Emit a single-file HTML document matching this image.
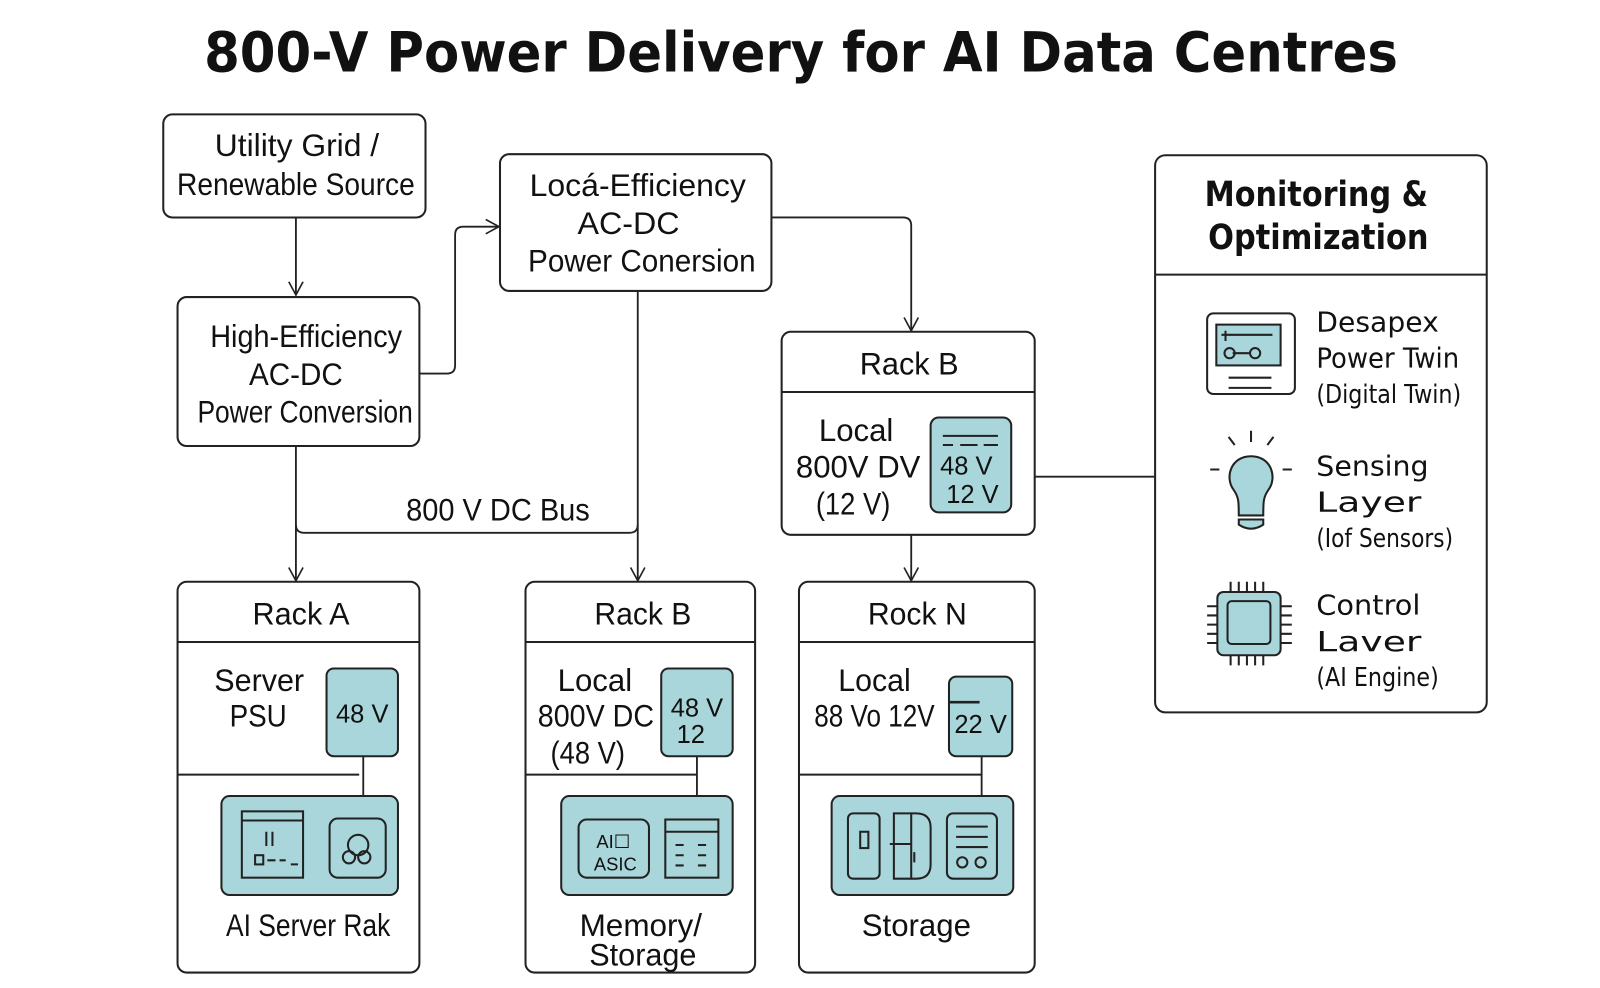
<!DOCTYPE html>
<html><head><meta charset="utf-8"><style>
html,body{margin:0;padding:0;background:#fff;}
svg{display:block}
text{font-family:"Liberation Sans Narrow","Liberation Sans",sans-serif;fill:#111}
.t{font-size:31px}
.b{font-family:"DejaVu Sans","Liberation Sans",sans-serif;font-weight:bold}
.m{font-family:"DejaVu Sans","Liberation Sans",sans-serif;font-size:27px}
.s{font-size:25px}
</style></head><body>
<svg width="1600" height="988" viewBox="0 0 1568 968" xmlns="http://www.w3.org/2000/svg">
<defs>
<marker id="r" markerWidth="16" markerHeight="16" refX="14" refY="8" orient="auto" markerUnits="userSpaceOnUse"><path d="M1,1 L14,8 L1,15" fill="none" stroke="#222" stroke-width="1.6"/></marker></defs>
<rect width="1568" height="968" fill="#fff"/>
<text class="b" x="785" y="70" text-anchor="middle" font-size="54" textLength="1170" lengthAdjust="spacingAndGlyphs">800-V Power Delivery for AI Data Centres</text>

<g fill="none" stroke="#222" stroke-width="2">
<rect x="160" y="112" width="257" height="101" rx="9"/>
<rect x="174" y="291" width="237" height="146" rx="9"/>
<rect x="490" y="151" width="266" height="134" rx="9"/>
<rect x="766" y="325" width="248" height="199" rx="9"/>
<line x1="766" y1="384" x2="1014" y2="384"/>
<rect x="1132" y="152" width="325" height="546" rx="10"/>
<line x1="1132" y1="269" x2="1457" y2="269"/>
<rect x="174" y="570" width="237" height="383" rx="9"/>
<line x1="174" y1="629" x2="411" y2="629"/><line x1="174" y1="759" x2="352" y2="759"/>
<rect x="515" y="570" width="225" height="383" rx="9"/>
<line x1="515" y1="629" x2="740" y2="629"/><line x1="515" y1="759" x2="683" y2="759"/>
<rect x="783" y="570" width="231" height="383" rx="9"/>
<line x1="783" y1="629" x2="1014" y2="629"/><line x1="783" y1="759" x2="962" y2="759"/>
</g>
<g fill="none" stroke="#222" stroke-width="1.8">
<path d="M290,213 V289" marker-end="url(#r)"/>
<path d="M411,366 H438 Q446,366 446,358 V230 Q446,222 454,222 H489" marker-end="url(#r)"/>
<path d="M756,213 H885 Q893,213 893,221 V324" marker-end="url(#r)"/>
<path d="M625,285 V569" marker-end="url(#r)"/>
<path d="M290,437 V569" marker-end="url(#r)"/>
<path d="M290,514 Q290,522 298,522 H617 Q625,522 625,514"/>
<path d="M893,524 V569" marker-end="url(#r)"/>
<path d="M1014,467 H1132"/>
<path d="M356,741 V780 M683,741 V780 M962,741 V780"/>
</g>

<text class="t" x="291" y="153" text-anchor="middle" textLength="161" lengthAdjust="spacingAndGlyphs">Utility Grid /</text>
<text class="t" x="290" y="191" text-anchor="middle" textLength="233" lengthAdjust="spacingAndGlyphs">Renewable Source</text>
<text class="t" x="300" y="340" text-anchor="middle" textLength="188" lengthAdjust="spacingAndGlyphs">High-Efficiency</text>
<text class="t" x="290" y="377" text-anchor="middle" textLength="92" lengthAdjust="spacingAndGlyphs">AC-DC</text>
<text class="t" x="299" y="414" text-anchor="middle" textLength="211" lengthAdjust="spacingAndGlyphs">Power Conversion</text>
<text class="t" x="625" y="192" text-anchor="middle" textLength="212" lengthAdjust="spacingAndGlyphs">Locá-Efficiency</text>
<text class="t" x="616" y="229" text-anchor="middle" textLength="100" lengthAdjust="spacingAndGlyphs">AC-DC</text>
<text class="t" x="629" y="266" text-anchor="middle" textLength="223" lengthAdjust="spacingAndGlyphs">Power Conersion</text>
<text class="t" x="488" y="510" text-anchor="middle" textLength="180" lengthAdjust="spacingAndGlyphs">800 V DC Bus</text>

<text class="t" x="891" y="367" text-anchor="middle" textLength="97" lengthAdjust="spacingAndGlyphs">Rack B</text>
<text class="t" x="839" y="432" text-anchor="middle" textLength="73" lengthAdjust="spacingAndGlyphs">Local</text>
<text class="t" x="841" y="468" text-anchor="middle" textLength="122" lengthAdjust="spacingAndGlyphs">800V DV</text>
<text class="t" x="836" y="504" text-anchor="middle" textLength="73" lengthAdjust="spacingAndGlyphs">(12 V)</text>
<rect x="912" y="409" width="79" height="93" rx="8" fill="#a9d6da" stroke="#222" stroke-width="2"/>
<path d="M924,427 H978 M924,436 H934 M941,436 H958 M964,436 H978" stroke="#222" stroke-width="2"/>
<text class="s" x="947" y="465" text-anchor="middle">48 V</text>
<text class="s" x="953" y="493" text-anchor="middle">12 V</text>

<text class="b" x="1290" y="202" text-anchor="middle" font-size="34" textLength="219" lengthAdjust="spacingAndGlyphs">Monitoring &amp;</text>
<text class="b" x="1292" y="244" text-anchor="middle" font-size="34" textLength="216" lengthAdjust="spacingAndGlyphs">Optimization</text>
<text class="m" x="1290" y="325" textLength="120" lengthAdjust="spacingAndGlyphs">Desapex</text>
<text class="m" x="1290" y="360" textLength="140" lengthAdjust="spacingAndGlyphs">Power Twin</text>
<text class="m s" x="1290" y="395" textLength="142" lengthAdjust="spacingAndGlyphs">(Digital Twin)</text>
<text class="m" x="1290" y="466" textLength="110" lengthAdjust="spacingAndGlyphs">Sensing</text>
<text class="m" x="1290" y="501" textLength="103" lengthAdjust="spacingAndGlyphs">Layer</text>
<text class="m s" x="1290" y="536" textLength="134" lengthAdjust="spacingAndGlyphs">(Iof Sensors)</text>
<text class="m" x="1290" y="602" textLength="102" lengthAdjust="spacingAndGlyphs">Control</text>
<text class="m" x="1290" y="638" textLength="103" lengthAdjust="spacingAndGlyphs">Laver</text>
<text class="m s" x="1290" y="672" textLength="120" lengthAdjust="spacingAndGlyphs">(AI Engine)</text>
<g stroke="#222" stroke-width="2" fill="none">
<rect x="1183" y="307" width="86" height="79" rx="6"/>
<rect x="1192" y="318" width="63" height="40" fill="#a9d6da"/>
<path d="M1197,328 H1247 M1201,324 V334 M1208,346 H1224"/>
<circle cx="1205" cy="346" r="5"/><circle cx="1230" cy="346" r="5"/>
<path d="M1204,370 H1246 M1204,380 H1246"/>
<path d="M1226,422 V433 M1204,428 L1210,436 M1248,428 L1242,436 M1186,460 H1195 M1257,460 H1266"/>
<path d="M1226,447 C1206,447 1200,468 1209,480 C1214,487 1214,492 1214,505 H1238 C1238,492 1238,487 1243,480 C1252,468 1246,447 1226,447 Z" fill="#a9d6da"/>
<path d="M1214,509 H1238 V514 Q1226,522 1214,514 Z" fill="#a9d6da"/>
<rect x="1193" y="580" width="62" height="62" rx="6" fill="#a9d6da"/>
<rect x="1203" y="589" width="42" height="42" rx="4"/>
<path d="M1206,570 V580 M1214,570 V580 M1222,570 V580 M1230,570 V580 M1238,570 V580 M1206,642 V652 M1214,642 V652 M1222,642 V652 M1230,642 V652 M1238,642 V652 M1183,594 H1193 M1183,603 H1193 M1183,612 H1193 M1183,621 H1193 M1183,630 H1193 M1255,594 H1266 M1255,603 H1266 M1255,612 H1266 M1255,621 H1266 M1255,630 H1266"/>
</g>

<text class="t" x="295" y="612" text-anchor="middle" textLength="95" lengthAdjust="spacingAndGlyphs">Rack A</text>
<text class="t" x="254" y="677" text-anchor="middle" textLength="88" lengthAdjust="spacingAndGlyphs">Server</text>
<text class="t" x="253" y="712" text-anchor="middle" textLength="56" lengthAdjust="spacingAndGlyphs">PSU</text>
<rect x="320" y="655" width="70" height="86" rx="7" fill="#a9d6da" stroke="#222" stroke-width="2"/>
<text class="s" x="355" y="708" text-anchor="middle">48 V</text>
<rect x="217" y="780" width="173" height="97" rx="8" fill="#a9d6da" stroke="#222" stroke-width="2"/>
<g stroke="#222" stroke-width="2" fill="none">
<rect x="237" y="795" width="60" height="65"/><path d="M237,804 H297 M261,815 V829 M267,815 V829 M262,843 H270 M274,843 H280 M285,847 H292"/><rect x="250" y="838" width="8" height="9"/>
<rect x="323" y="802" width="55" height="58" rx="8"/><circle cx="351" cy="828" r="10"/><circle cx="342" cy="840" r="6"/><circle cx="357" cy="840" r="6"/>
</g>
<text class="t" x="302" y="917" text-anchor="middle" textLength="161" lengthAdjust="spacingAndGlyphs">AI Server Rak</text>

<text class="t" x="630" y="612" text-anchor="middle" textLength="95" lengthAdjust="spacingAndGlyphs">Rack B</text>
<text class="t" x="583" y="677" text-anchor="middle" textLength="73" lengthAdjust="spacingAndGlyphs">Local</text>
<text class="t" x="584" y="712" text-anchor="middle" textLength="114" lengthAdjust="spacingAndGlyphs">800V DC</text>
<text class="t" x="576" y="748" text-anchor="middle" textLength="73" lengthAdjust="spacingAndGlyphs">(48 V)</text>
<rect x="648" y="655" width="70" height="86" rx="7" fill="#a9d6da" stroke="#222" stroke-width="2"/>
<text class="s" x="683" y="702" text-anchor="middle">48 V</text>
<text class="s" x="677" y="728" text-anchor="middle">12</text>
<rect x="550" y="780" width="168" height="97" rx="8" fill="#a9d6da" stroke="#222" stroke-width="2"/>
<g stroke="#222" stroke-width="2" fill="none">
<rect x="567" y="803" width="69" height="57" rx="8"/>
<rect x="652" y="803" width="52" height="57"/><path d="M652,815 H704 M662,828 H670 M684,828 H692 M662,838 H670 M684,838 H692 M662,848 H670 M684,848 H692"/>
</g>
<text x="601" y="831" text-anchor="middle" font-size="18">AI☐</text>
<text x="603" y="853" text-anchor="middle" font-size="18">ASIC</text>
<text class="t" x="628" y="917" text-anchor="middle" textLength="120" lengthAdjust="spacingAndGlyphs">Memory/</text>
<text class="t" x="630" y="946" text-anchor="middle" textLength="105" lengthAdjust="spacingAndGlyphs">Storage</text>

<text class="t" x="899" y="612" text-anchor="middle" textLength="97" lengthAdjust="spacingAndGlyphs">Rock N</text>
<text class="t" x="857" y="677" text-anchor="middle" textLength="71" lengthAdjust="spacingAndGlyphs">Local</text>
<text class="t" x="857" y="712" text-anchor="middle" textLength="118" lengthAdjust="spacingAndGlyphs">88 Vo 12V</text>
<rect x="930" y="663" width="62" height="78" rx="7" fill="#a9d6da" stroke="#222" stroke-width="2"/>
<path d="M931,688 H960" stroke="#222" stroke-width="2.5"/>
<text class="s" x="961" y="718" text-anchor="middle">22 V</text>
<rect x="815" y="780" width="178" height="97" rx="8" fill="#a9d6da" stroke="#222" stroke-width="2"/>
<g stroke="#222" stroke-width="2" fill="none">
<rect x="831" y="797" width="31" height="64" rx="5"/><rect x="843" y="815" width="8" height="16"/>
<path d="M876,797 H898 Q912,797 912,811 V847 Q912,861 898,861 H876 Z M893,797 V861 M872,827 H894 M896,835 V845"/>
<rect x="928" y="797" width="49" height="64" rx="6"/><path d="M937,810 H968 M937,820 H968 M937,830 H968"/><circle cx="943" cy="845" r="5"/><circle cx="961" cy="845" r="5"/>
</g>
<text class="t" x="898" y="917" text-anchor="middle" textLength="107" lengthAdjust="spacingAndGlyphs">Storage</text>
</svg>
</body></html>
